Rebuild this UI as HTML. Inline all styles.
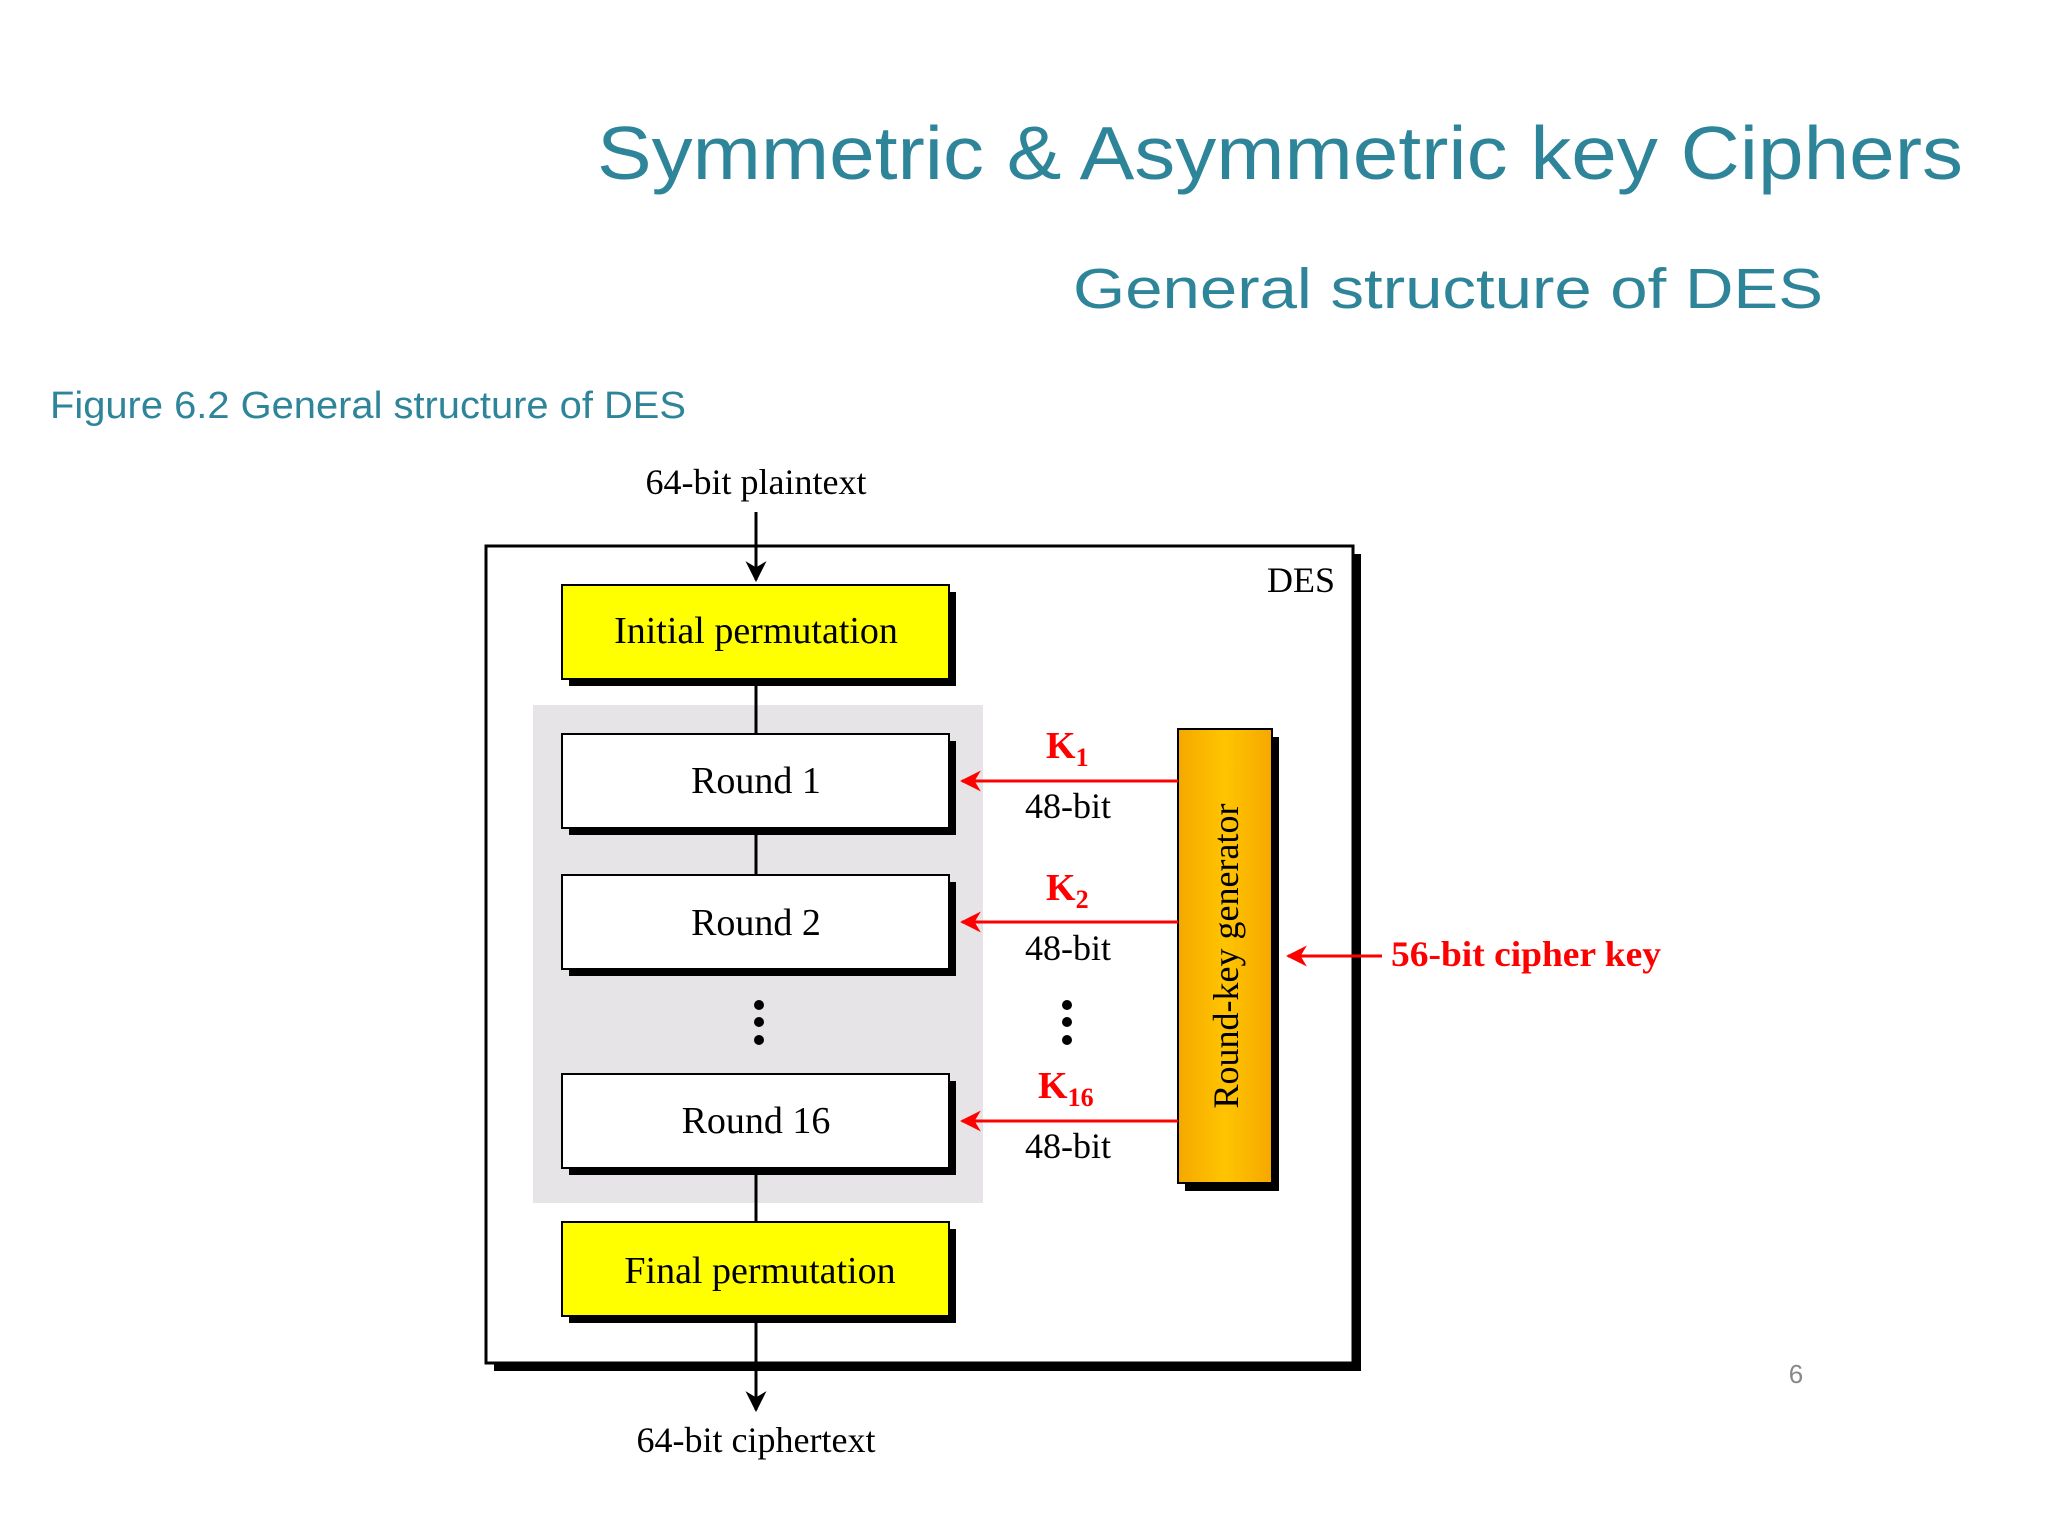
<!DOCTYPE html>
<html><head><meta charset="utf-8"><style>
html,body{margin:0;padding:0;background:#fff;}
svg{display:block}
.t{font-family:"Liberation Sans",sans-serif;fill:#2e8599}
.s{font-family:"Liberation Serif",serif;fill:#000}
.r{font-family:"Liberation Serif",serif;fill:#f00;font-weight:bold}
</style></head><body>
<svg width="2048" height="1536" viewBox="0 0 2048 1536" xmlns="http://www.w3.org/2000/svg">
<defs>
<linearGradient id="og" x1="0" x2="1" y1="0" y2="0">
<stop offset="0" stop-color="#f5a800"/><stop offset="0.5" stop-color="#ffc400"/><stop offset="1" stop-color="#f5a800"/>
</linearGradient>
<marker id="ab" viewBox="0 0 10 10" refX="9" refY="5" markerWidth="7" markerHeight="7" orient="auto-start-reverse"><path d="M0,0 L10,5 L0,10 L3,5 z" fill="#000"/></marker>
<marker id="ar" viewBox="0 0 10 10" refX="9" refY="5" markerWidth="7" markerHeight="7" orient="auto-start-reverse"><path d="M0,0 L10,5 L0,10 L3,5 z" fill="#f00"/></marker>
</defs>
<text class="t" x="597" y="179" font-size="75" textLength="1366" lengthAdjust="spacingAndGlyphs">Symmetric &amp; Asymmetric key Ciphers</text>
<text class="t" x="1073" y="308" font-size="57" textLength="750" lengthAdjust="spacingAndGlyphs">General structure of DES</text>
<text class="t" x="50" y="418" font-size="38" textLength="636" lengthAdjust="spacingAndGlyphs">Figure 6.2  General structure of DES</text>

<text class="s" x="756" y="494" font-size="36" text-anchor="middle">64-bit plaintext</text>
<!-- DES box -->
<rect x="494" y="554" width="867" height="817" fill="#000"/>
<rect x="486" y="546" width="867" height="817" fill="#fff" stroke="#000" stroke-width="3"/>
<text class="s" x="1335" y="592" font-size="36" text-anchor="end">DES</text>
<!-- gray -->
<rect x="533" y="705" width="450" height="498" fill="#e6e4e6"/>
<!-- vertical lines -->
<line x1="756" y1="512" x2="756" y2="580" stroke="#000" stroke-width="3" marker-end="url(#ab)"/>
<line x1="756" y1="679" x2="756" y2="734" stroke="#000" stroke-width="3"/>
<line x1="756" y1="828" x2="756" y2="875" stroke="#000" stroke-width="3"/>
<line x1="756" y1="1168" x2="756" y2="1222" stroke="#000" stroke-width="3"/>
<line x1="756" y1="1316" x2="756" y2="1410" stroke="#000" stroke-width="3" marker-end="url(#ab)"/>
<!-- boxes -->
<g>
<rect x="569" y="592" width="387" height="94" fill="#000"/>
<rect x="562" y="585" width="387" height="94" fill="#ffff00" stroke="#000" stroke-width="2"/>
<text class="s" x="756" y="643" font-size="38" text-anchor="middle">Initial permutation</text>
<rect x="569" y="741" width="387" height="94" fill="#000"/>
<rect x="562" y="734" width="387" height="94" fill="#fff" stroke="#000" stroke-width="2"/>
<text class="s" x="756" y="793" font-size="38" text-anchor="middle">Round 1</text>
<rect x="569" y="882" width="387" height="94" fill="#000"/>
<rect x="562" y="875" width="387" height="94" fill="#fff" stroke="#000" stroke-width="2"/>
<text class="s" x="756" y="935" font-size="38" text-anchor="middle">Round 2</text>
<rect x="569" y="1081" width="387" height="94" fill="#000"/>
<rect x="562" y="1074" width="387" height="94" fill="#fff" stroke="#000" stroke-width="2"/>
<text class="s" x="756" y="1133" font-size="38" text-anchor="middle">Round 16</text>
<rect x="569" y="1229" width="387" height="94" fill="#000"/>
<rect x="562" y="1222" width="387" height="94" fill="#ffff00" stroke="#000" stroke-width="2"/>
<text class="s" x="760" y="1283" font-size="38" text-anchor="middle">Final permutation</text>
</g>
<circle cx="759" cy="1005" r="5" fill="#000"/><circle cx="759" cy="1022" r="5" fill="#000"/><circle cx="759" cy="1040" r="5" fill="#000"/>
<circle cx="1067" cy="1005" r="5" fill="#000"/><circle cx="1067" cy="1022" r="5" fill="#000"/><circle cx="1067" cy="1040" r="5" fill="#000"/>
<!-- round key gen -->
<rect x="1185" y="737" width="94" height="454" fill="#000"/>
<rect x="1178" y="729" width="94" height="454" fill="url(#og)" stroke="#000" stroke-width="2"/>
<text class="s" font-size="36" transform="translate(1238,956) rotate(-90)" text-anchor="middle">Round-key generator</text>
<!-- red arrows -->
<line x1="1178" y1="781" x2="962" y2="781" stroke="#f00" stroke-width="3" marker-end="url(#ar)"/>
<line x1="1178" y1="922" x2="962" y2="922" stroke="#f00" stroke-width="3" marker-end="url(#ar)"/>
<line x1="1178" y1="1121" x2="962" y2="1121" stroke="#f00" stroke-width="3" marker-end="url(#ar)"/>
<line x1="1382" y1="956" x2="1288" y2="956" stroke="#f00" stroke-width="3" marker-end="url(#ar)"/>
<text class="r" x="1046" y="758" font-size="38">K<tspan font-size="26" dy="8">1</tspan></text>
<text class="r" x="1046" y="900" font-size="38">K<tspan font-size="26" dy="8">2</tspan></text>
<text class="r" x="1038" y="1098" font-size="38">K<tspan font-size="26" dy="8">16</tspan></text>
<text class="s" x="1068" y="818" font-size="36" text-anchor="middle">48-bit</text>
<text class="s" x="1068" y="960" font-size="36" text-anchor="middle">48-bit</text>
<text class="s" x="1068" y="1158" font-size="36" text-anchor="middle">48-bit</text>
<text class="r" x="1391" y="966" font-size="36" textLength="270" lengthAdjust="spacingAndGlyphs">56-bit cipher key</text>
<text class="s" x="756" y="1452" font-size="36" text-anchor="middle">64-bit ciphertext</text>
<text x="1796" y="1383" font-family="Liberation Sans,sans-serif" font-size="26" fill="#888" text-anchor="middle">6</text>
</svg>
</body></html>
